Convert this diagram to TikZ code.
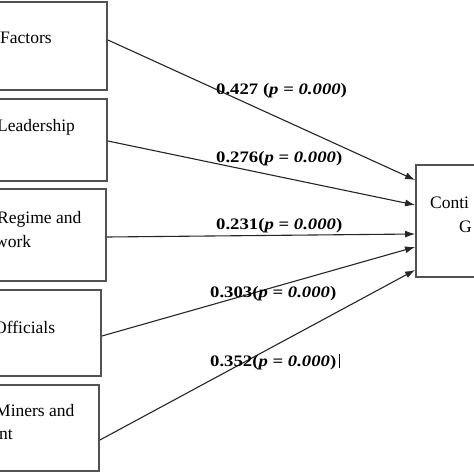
\documentclass[tikz,border=0pt]{standalone}
\usepackage{fontspec}
\setmainfont{Liberation Serif}
\usetikzlibrary{arrows.meta}
\begin{document}
\begin{tikzpicture}[x=1pt,y=-1pt,
  boxst/.style={draw=black!68,line width=1.8pt,rectangle,inner sep=0pt},
  arr/.style={draw=black!85,line width=1.1pt,-{Latex[length=10pt,width=7pt]}},
  boxtext/.style={inner sep=0pt,anchor=base west,font=\fontsize{17.5}{20}\selectfont},
  lab/.style={inner sep=0pt,anchor=base west,font=\fontsize{16}{19}\selectfont\bfseries}]
\useasboundingbox (0,0) rectangle (474,474);
\clip (0,0) rectangle (474,474);
\fill[white] (0,0) rectangle (474,474);
% left boxes
\node[boxst,minimum width=207pt,minimum height=88pt] (b1) at (3.5,46) {};
\node[boxst,minimum width=207pt,minimum height=82pt] (b2) at (3.5,140) {};
\node[boxst,minimum width=206pt,minimum height=92pt] (b3) at (3,235) {};
\node[boxst,minimum width=201pt,minimum height=86pt] (b4) at (0.5,333) {};
\node[boxst,minimum width=199pt,minimum height=86pt] (b5) at (-0.5,428) {};
% right box
\node[boxst,minimum width=144pt,minimum height=112pt] (t) at (488,221) {};
% box texts
\node[boxtext] (t1) at (0,43) {Factors};
\node[boxtext] (t2) at (-3,131) {Leadership};
\node[boxtext] (t3a) at (-3,223) {Regime and};
\node[boxtext] (t3b) at (-5,247) {work};
\node[boxtext] (t4) at (-6,333) {Officials};
\node[boxtext] (t5a) at (-5,416) {Miners and};
\node[boxtext] (t5b) at (-1,439) {nt};
\node[boxtext] (tt1) at (430,208) {Conti};
\node[boxtext] (tt2) at (459,232) {G};
% arrows
\draw[arr] ([yshift=6pt]b1.east) -- ([yshift=41pt]t.west);
\draw[arr] ([yshift=-1pt]b2.east) -- ([yshift=16pt]t.west);
\draw[arr] ([yshift=-2pt]b3.east) -- ([yshift=-13pt]t.west);
\draw[arr] ([yshift=-3pt]b4.east) -- ([yshift=-26pt]t.west);
\draw[arr] ([yshift=-12pt]b5.east) -- ([yshift=-49pt]t.west);
% labels
\node[lab] (l1) at (216,94) {\scalebox{1.17}[1]{0.427 (\textit{p} = \textit{0.000})}};
\node[lab] (l2) at (216,162) {\scalebox{1.17}[1]{0.276(\textit{p} = \textit{0.000})}};
\node[lab] (l3) at (216,229) {\scalebox{1.17}[1]{0.231(\textit{p} = \textit{0.000})}};
\node[lab] (l4) at (210,297) {\scalebox{1.17}[1]{0.303(\textit{p} = \textit{0.000})}};
\node[lab] (l5) at (210,366) {\scalebox{1.17}[1]{0.352(\textit{p} = \textit{0.000})}\,\rule[-2pt]{0.7pt}{14pt}};
\end{tikzpicture}
\end{document}
